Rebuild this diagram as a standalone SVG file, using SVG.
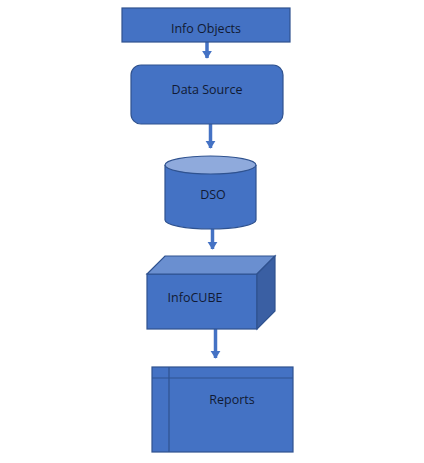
<svg xmlns="http://www.w3.org/2000/svg" width="424" height="463" viewBox="0 0 424 463">
<defs>
<style>
.n{fill:#4472C4;stroke:#2F528F;stroke-width:1.2}
.lt{fill:#8FAADC;stroke:#2F528F;stroke-width:1.2}
.md{fill:#6A8FD0;stroke:#2F528F;stroke-width:1.2}
.dk{fill:#3A5FA3;stroke:#2F528F;stroke-width:1.2}
.ln{fill:none;stroke:#2F528F;stroke-width:1.2}
.t{font-family:"Open Sans","Liberation Sans",sans-serif;font-size:12.5px;fill:#111a33;text-anchor:middle}
.c{stroke:#4472C4;stroke-width:3.5;fill:none;marker-end:url(#ah)}
</style>
<marker id="ah" markerWidth="4" markerHeight="4" refX="2" refY="2" orient="auto" markerUnits="strokeWidth">
<path d="M0,0.6 L2.2,2 L0,3.4 Z" fill="#4472C4"/>
</marker>
</defs>
<rect width="424" height="463" fill="#ffffff"/>
<g id="connectors">
<line class="c" x1="207" y1="42" x2="207" y2="58"/>
<line class="c" x1="210.5" y1="124" x2="210.5" y2="148"/>
<line class="c" x1="212.5" y1="229" x2="212.5" y2="249"/>
<line class="c" x1="215.5" y1="329" x2="215.5" y2="358"/>
</g>
<g id="info-objects">
<rect class="n" x="122" y="8" width="168" height="34"/>
<text class="t" x="206" y="33">Info Objects</text>
</g>
<g id="data-source">
<rect class="n" x="131" y="65" width="152" height="59" rx="10" ry="10"/>
<text class="t" x="207" y="94">Data Source</text>
</g>
<g id="dso">
<path class="n" d="M165,165 L165,220 A45.5,9 0 0 0 256,220 L256,165"/>
<ellipse class="lt" cx="210.5" cy="165" rx="45.5" ry="9"/>
<text class="t" x="213" y="199">DSO</text>
</g>
<g id="infocube">
<rect class="n" x="147" y="274" width="110" height="55"/>
<path class="md" d="M147,274 L165,256 L275,256 L257,274 Z"/>
<path class="dk" d="M257,274 L275,256 L275,311 L257,329 Z"/>
<text class="t" x="195" y="302">InfoCUBE</text>
</g>
<g id="reports">
<rect class="n" x="152" y="367" width="141" height="85"/>
<line class="ln" x1="152" y1="378" x2="293" y2="378"/>
<line class="ln" x1="169" y1="367" x2="169" y2="452"/>
<text class="t" x="232" y="404">Reports</text>
</g>
</svg>
